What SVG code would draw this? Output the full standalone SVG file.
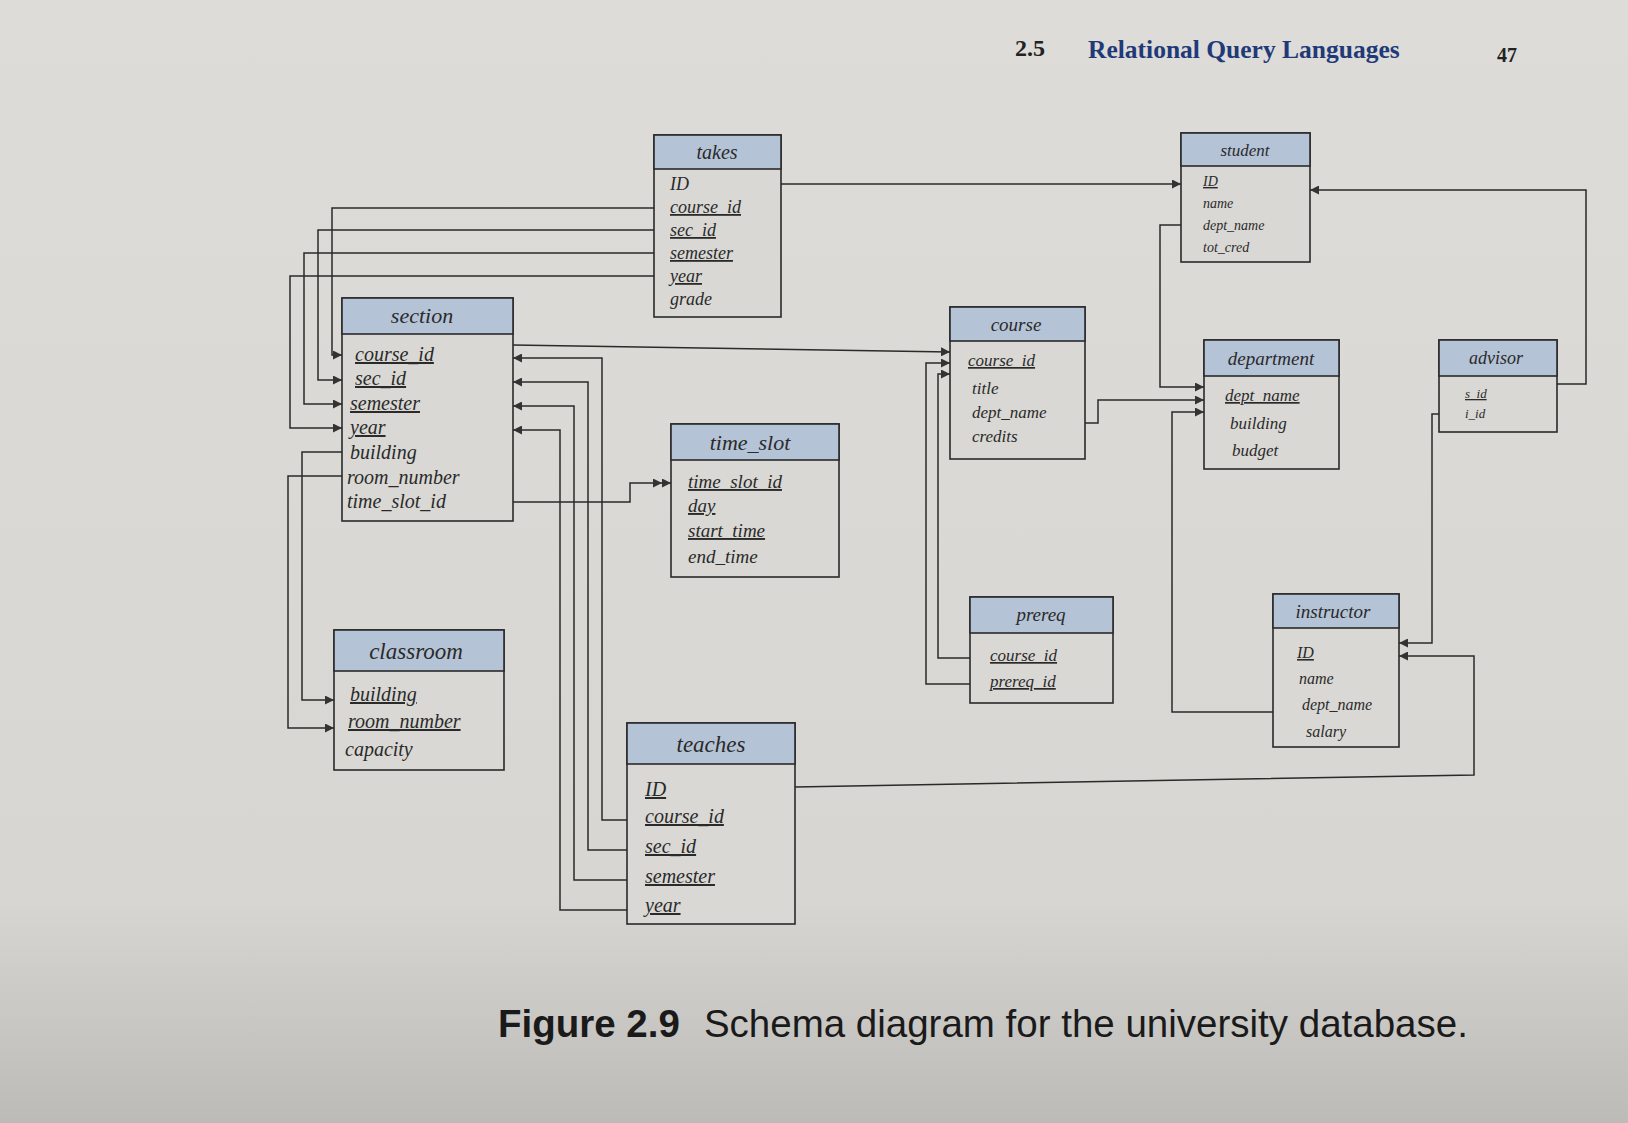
<svg xmlns="http://www.w3.org/2000/svg" width="1628" height="1123" viewBox="0 0 1628 1123">
<defs>
<linearGradient id="bg" x1="0" y1="0" x2="0" y2="1">
<stop offset="0" stop-color="#dedcd8"/><stop offset="0.8" stop-color="#d8d6d2"/><stop offset="1" stop-color="#bdbbb8"/>
</linearGradient>
<marker id="ah" viewBox="0 0 10 10" refX="10" refY="5" markerWidth="9" markerHeight="9" orient="auto" markerUnits="userSpaceOnUse"><path d="M0,0 L10,5 L0,10 z" fill="#333"/></marker>
<marker id="ah2" viewBox="0 0 20 10" refX="20" refY="5" markerWidth="18" markerHeight="9" orient="auto" markerUnits="userSpaceOnUse"><path d="M0,0 L10,5 L0,10 z M10,0 L20,5 L10,10 z" fill="#333"/></marker>
</defs>
<style>
.box{fill:#d9d8d4;stroke:#2a2a2a;stroke-width:1.6}
.hd{fill:#b5c3d6;stroke:#2a2a2a;stroke-width:1.6}
.t{font-family:"Liberation Serif",serif;font-style:italic;fill:#2a2a2a}
.h{font-family:"Liberation Serif",serif;font-style:italic;fill:#2a2a2a;text-anchor:middle}
.u{text-decoration:underline}
#connectors path{fill:none;stroke:#2a2a2a;stroke-width:1.5}
.a{marker-end:url(#ah)}
</style>
<rect width="1628" height="1123" fill="url(#bg)"/>
<text x="1015" y="56" font-family="Liberation Serif,serif" font-weight="bold" font-size="24" fill="#222">2.5</text>
<text x="1088" y="58" font-family="Liberation Serif,serif" font-weight="bold" font-size="25.5" fill="#1f3a78">Relational Query Languages</text>
<text x="1497" y="62" font-family="Liberation Serif,serif" font-weight="bold" font-size="20" fill="#222">47</text>

<g id="connectors">
<path class="a" d="M781,184 L1181,184"/>
<path class="a" d="M654,208 L332,208 L332,355 L342,355"/>
<path class="a" d="M654,230 L318,230 L318,380 L342,380"/>
<path class="a" d="M654,253 L304,253 L304,404 L342,404"/>
<path class="a" d="M654,276 L290,276 L290,428 L342,428"/>
<path class="a" d="M513,345 L950,352"/>
<path class="a" d="M627,820 L602,820 L602,358 L513,358"/>
<path class="a" d="M627,850 L588,850 L588,382 L513,382"/>
<path class="a" d="M627,880 L574,880 L574,406 L513,406"/>
<path class="a" d="M627,910 L560,910 L560,430 L513,430"/>
<path d="M513,502 L630,502 L630,483 L671,483" marker-end="url(#ah2)"/>
<path class="a" d="M342,452 L302,452 L302,700 L334,700"/>
<path class="a" d="M342,476 L288,476 L288,728 L334,728"/>
<path class="a" d="M970,684 L926,684 L926,363 L950,363"/>
<path class="a" d="M970,658 L938,658 L938,374 L950,374"/>
<path class="a" d="M1181,225 L1160,225 L1160,387 L1204,387"/>
<path class="a" d="M1085,423 L1098,423 L1098,400 L1204,400"/>
<path class="a" d="M1273,712 L1172,712 L1172,412 L1204,412"/>
<path class="a" d="M1557,384 L1586,384 L1586,190 L1310,190"/>
<path class="a" d="M1439,414 L1432,414 L1432,643 L1399,643"/>
<path class="a" d="M795,787 L1474,775 L1474,656 L1399,656"/>
</g>

<g id="takes">
<rect class="box" x="654" y="135" width="127" height="182"/><rect class="hd" x="654" y="135" width="127" height="34"/>
<text class="h" x="717" y="159" font-size="20">takes</text>
<g font-size="18"><text class="t" x="670" y="190">ID</text><text class="t u" x="670" y="213">course_id</text><text class="t u" x="670" y="236">sec_id</text><text class="t u" x="670" y="259">semester</text><text class="t u" x="670" y="282">year</text><text class="t" x="670" y="305">grade</text></g>
</g>
<g id="student">
<rect class="box" x="1181" y="133" width="129" height="129"/><rect class="hd" x="1181" y="133" width="129" height="33"/>
<text class="h" x="1245" y="156" font-size="17">student</text>
<g font-size="14"><text class="t u" x="1203" y="186">ID</text><text class="t" x="1203" y="208">name</text><text class="t" x="1203" y="230">dept_name</text><text class="t" x="1203" y="252">tot_cred</text></g>
</g>
<g id="section">
<rect class="box" x="342" y="298" width="171" height="223"/><rect class="hd" x="342" y="298" width="171" height="36"/>
<text class="h" x="422" y="323" font-size="22">section</text>
<g font-size="20"><text class="t u" x="355" y="361">course_id</text><text class="t u" x="355" y="385">sec_id</text><text class="t u" x="350" y="410">semester</text><text class="t u" x="350" y="434">year</text><text class="t" x="350" y="459">building</text><text class="t" x="347" y="484">room_number</text><text class="t" x="347" y="508">time_slot_id</text></g>
</g>
<g id="time_slot">
<rect class="box" x="671" y="424" width="168" height="153"/><rect class="hd" x="671" y="424" width="168" height="36"/>
<text class="h" x="750" y="450" font-size="22">time_slot</text>
<g font-size="19"><text class="t u" x="688" y="488">time_slot_id</text><text class="t u" x="688" y="512">day</text><text class="t u" x="688" y="537">start_time</text><text class="t" x="688" y="563">end_time</text></g>
</g>
<g id="course">
<rect class="box" x="950" y="307" width="135" height="152"/><rect class="hd" x="950" y="307" width="135" height="34"/>
<text class="h" x="1016" y="331" font-size="19">course</text>
<g font-size="17"><text class="t u" x="968" y="366">course_id</text><text class="t" x="972" y="394">title</text><text class="t" x="972" y="418">dept_name</text><text class="t" x="972" y="442">credits</text></g>
</g>
<g id="department">
<rect class="box" x="1204" y="340" width="135" height="129"/><rect class="hd" x="1204" y="340" width="135" height="36"/>
<text class="h" x="1271" y="365" font-size="19">department</text>
<g font-size="17"><text class="t u" x="1225" y="401">dept_name</text><text class="t" x="1230" y="429">building</text><text class="t" x="1232" y="456">budget</text></g>
</g>
<g id="advisor">
<rect class="box" x="1439" y="340" width="118" height="92"/><rect class="hd" x="1439" y="340" width="118" height="36"/>
<text class="h" x="1496" y="364" font-size="18">advisor</text>
<g font-size="13"><text class="t u" x="1465" y="398">s_id</text><text class="t" x="1465" y="418">i_id</text></g>
</g>
<g id="classroom">
<rect class="box" x="334" y="630" width="170" height="140"/><rect class="hd" x="334" y="630" width="170" height="41"/>
<text class="h" x="416" y="659" font-size="23">classroom</text>
<g font-size="20"><text class="t u" x="350" y="701">building</text><text class="t u" x="348" y="728">room_number</text><text class="t" x="345" y="756">capacity</text></g>
</g>
<g id="prereq">
<rect class="box" x="970" y="597" width="143" height="106"/><rect class="hd" x="970" y="597" width="143" height="36"/>
<text class="h" x="1041" y="621" font-size="19">prereq</text>
<g font-size="17"><text class="t u" x="990" y="661">course_id</text><text class="t u" x="990" y="687">prereq_id</text></g>
</g>
<g id="instructor">
<rect class="box" x="1273" y="594" width="126" height="153"/><rect class="hd" x="1273" y="594" width="126" height="34"/>
<text class="h" x="1333" y="618" font-size="19">instructor</text>
<g font-size="16"><text class="t u" x="1297" y="658">ID</text><text class="t" x="1299" y="684">name</text><text class="t" x="1302" y="710">dept_name</text><text class="t" x="1306" y="737">salary</text></g>
</g>
<g id="teaches">
<rect class="box" x="627" y="723" width="168" height="201"/><rect class="hd" x="627" y="723" width="168" height="41"/>
<text class="h" x="711" y="752" font-size="23">teaches</text>
<g font-size="20"><text class="t u" x="645" y="796">ID</text><text class="t u" x="645" y="823">course_id</text><text class="t u" x="645" y="853">sec_id</text><text class="t u" x="645" y="883">semester</text><text class="t u" x="645" y="912">year</text></g>
</g>
<text x="498" y="1037" font-family="Liberation Sans,sans-serif" font-size="38.5" fill="#1a1a1a"><tspan font-weight="bold">Figure 2.9</tspan><tspan dx="24">Schema diagram for the university database.</tspan></text>
</svg>
